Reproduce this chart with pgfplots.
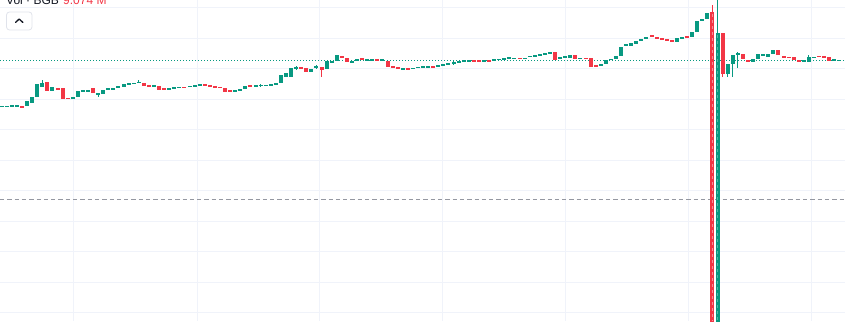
\documentclass[border=0pt]{standalone}
\usepackage{pgfplots}
\pgfplotsset{compat=1.18}
\usepackage{pgfplotstable}
\usepackage{fontspec}
\setmainfont{Liberation Sans}
\definecolor{tvgreen}{RGB}{8,153,129}
\definecolor{tvred}{RGB}{242,54,69}
\definecolor{gridcol}{RGB}{240,243,250}
\definecolor{dashgray}{RGB}{149,152,161}
\definecolor{txt}{RGB}{19,23,34}
\definecolor{btnborder}{RGB}{224,227,235}

% columns: index, body top, body bottom, wick high, wick low (pixel rows, top = 0)
\pgfplotstableread{
i t b h l
0 106 107 106 107
1 106 107 106 107
2 105.5 106.5 105.5 106.5
3 105 106 105 106
5 101 106 101 106
6 97 103 97 103
7 84 97 84 97
8 83 87 80 87
10 87 91 87 91
14 97.5 98.5 97.5 98.5
15 91 97 91 97
16 90.5 91.5 90.5 91.5
17 90 91 90 91
19 93 95 93 97
20 90 94 90 94
21 88.5 89.5 88.5 89.5
22 88 89.5 88 89.5
23 86.5 87.5 86.5 87.5
24 84 87 84 87
25 83.5 84.5 83.5 84.5
26 83 84 83 84
27 82 83 80 83
30 85.5 86.5 85.5 86.5
33 88 89 88 89
34 87.5 88.5 87.5 88.5
35 87 88 87 88
37 86 87 86 87
38 85.5 86.5 85.5 86.5
39 84 86 84 86
46 90.3 91.3 90.3 91.3
47 89 90.7 89 90.7
48 86.3 89 86.3 89
50 85.3 86.3 85.3 86.3
51 85 86 84 87
52 85 86 85 86
53 84 85.7 84 85.7
54 83 84.3 83 84.3
55 75 83 75 83
56 73 77 73 77
57 68 77 68 77
58 67.5 68.5 66 70
61 69 72 69 72
62 66.5 67.5 65 69
64 61 69 61 69
65 61.5 62.5 61.5 62.5
66 55 61 55 61
69 61.5 62.5 61.5 62.5
70 59 61 59 61
72 59.5 60.5 59.5 60.5
73 59.5 60.5 59.5 60.5
75 59.5 60.5 59.5 60.5
79 68.5 69.5 68.5 69.5
81 68 69 68 69
82 67 68 67 68
83 66.5 67.5 66.5 67.5
84 66.5 67.5 66.5 67.5
86 65.5 66.5 65.5 66.5
87 64 66 64 66
88 63.3 64.3 63.3 64.3
89 62.2 63.2 61 65
90 61.2 62.2 61.2 62.2
91 60.5 61.5 60.5 61.5
92 60.2 61.2 60.2 61.2
95 60.2 61.2 60.2 61.2
97 59.5 60.5 59.5 60.5
98 58.8 59.8 58.8 59.8
99 58.5 59.5 58.5 59.5
100 57.3 59 57.3 59
101 57.8 58.8 57.8 58.8
103 57.8 58.8 57.8 58.8
104 55.7 57.3 55.7 57.3
105 55.2 56.2 55.2 56.2
106 54 55.7 54 55.7
107 52.7 55 52.7 55
108 52 53.5 52 53.5
110 57 59.5 57 59.5
111 56.5 58.5 56.5 58.5
112 55 57.7 55 57.7
114 57.8 58.8 57.8 58.8
118 64 66 64 66
119 60 64 60 64
120 59 60 59 60
121 56 59 56 59
122 47 56 47 56
123 44.5 45.5 44.5 45.5
124 43 46 43 46
125 41 44 41 44
126 39 41 39 41
127 37 39 37 39
133 38 42 38 42
134 37.5 38.5 37.5 38.5
136 32 37 32 37
137 21 32 21 32
138 19 21 19 21
139 13 19 13 19
141 33 325 -2 325
143 64 74 64 77
144 55 64 55 77
145 53 55 52 68
148 59 61.7 59 61.7
149 54.3 59 54.3 59
150 54.5 55.5 54.5 55.5
151 54.3 56.7 54.3 56.7
152 50 54.3 50 54.3
158 60.5 61.5 60.5 61.5
159 57.3 61.7 55 61.7
160 56.8 57.8 56.8 57.8
164 59.5 60.5 59.5 60.5
165 59.8 60.8 59.8 60.8
}\greentable

\pgfplotstableread{
i t b h l
4 106 108 106 108
9 82 91 82 91
11 88 89 88 89
12 88 99 88 99
13 98 99 98 99
18 88 93 88 93
28 83 86 83 86
29 85.5 86.5 85.5 86.5
31 86 90 86 90
32 88.5 89.5 88.5 89.5
36 87 88 87 88
40 84.5 85.5 84.5 85.5
41 85 87 85 87
42 86.5 87.5 86.5 87.5
43 87 88 87 88
44 87.7 92.3 87.7 92.3
45 90.5 91.5 90.5 91.5
49 85.3 86.3 85.3 86.3
59 67.5 68.5 67.5 68.5
60 68 72 68 72
63 67 70 67 77
67 56 58 56 58
68 58 62 58 62
71 58.5 59.5 58.5 59.5
74 59.5 60.5 59.5 60.5
76 61 67 61 67
77 66.5 67.5 66.5 67.5
78 67.5 68.5 67.5 68.5
80 68.5 69.5 68.5 69.5
85 66.5 67.5 66.5 67.5
93 60.2 61.2 60.2 61.2
94 60.2 61.2 60.2 61.2
96 60.2 61.2 60.2 61.2
102 57.8 58.8 57.8 58.8
109 51.7 60 51.7 60
113 55 59 55 59
115 57.8 58.8 57.8 58.8
116 58 67 58 67
117 65.5 66.5 65.5 66.5
128 35.5 36.5 35.5 36.5
129 37.5 38.5 37.5 38.5
130 38.5 39.5 38.5 39.5
131 39.5 40.5 39.5 40.5
132 40.5 41.5 40.5 41.5
135 36.5 37.5 36.5 37.5
140 12 325 5 325
142 33 74 33 77
146 54 58.7 54 58.7
147 60 61.7 60 61.7
153 50 55 50 55
154 55.7 57.7 55.7 57.7
155 56.8 57.8 56.8 57.8
156 57.3 60 57.3 60
157 60 61.7 60 61.7
161 55.8 56.8 55.8 56.8
162 56.2 57.2 56.2 57.2
163 57.3 60.7 57.3 60.7
}\redtable

\pgfplotsset{
  candle/.style n args={2}{draw=none, mark=none, forget plot,
    error bars/.cd, y dir=both, y explicit, error mark=none,
    error bar style={draw=#1, line width=#2, line cap=butt}},
}

\begin{document}
\begin{tikzpicture}
\useasboundingbox (0,0) rectangle (845pt,321pt);
\clip (0,0) rectangle (845pt,321pt);
\begin{axis}[
  at={(0,0)}, anchor=south west,
  scale only axis, width=845pt, height=321pt,
  xmin=0, xmax=845, ymin=0, ymax=321, y dir=reverse,
  axis line style={draw=none}, tick style={draw=none},
  major tick length=0pt,
  xtick={73,197,319,442,565,688,811},
  ytick={7,38,68,99,129,160,190,221,251,282,312},
  xticklabels={}, yticklabels={},
  grid=major, grid style={color=gridcol, line width=0.8pt},
]
\draw[tvgreen, line width=0.9pt, dash pattern=on 1pt off 2pt] (axis cs:0,60.7) -- (axis cs:845,60.7);
\draw[dashgray, line width=0.9pt, dash pattern=on 4.3pt off 3pt] (axis cs:0,199) -- (axis cs:845,199);
% wicks
\addplot[candle={tvgreen}{1pt}]
  table[x expr={1.7+5.077*\thisrow{i}}, y expr={(\thisrow{h}+\thisrow{l})/2}, y error expr={(\thisrow{l}-\thisrow{h})/2}] {\greentable};
\addplot[candle={tvred}{1pt}]
  table[x expr={1.7+5.077*\thisrow{i}}, y expr={(\thisrow{h}+\thisrow{l})/2}, y error expr={(\thisrow{l}-\thisrow{h})/2}] {\redtable};
% bodies
\addplot[candle={tvgreen}{4pt}]
  table[x expr={1.7+5.077*\thisrow{i}}, y expr={(\thisrow{t}+\thisrow{b})/2}, y error expr={max((\thisrow{b}-\thisrow{t})/2,0.6)}] {\greentable};
\addplot[candle={tvred}{4pt}]
  table[x expr={1.7+5.077*\thisrow{i}}, y expr={(\thisrow{t}+\thisrow{b})/2}, y error expr={max((\thisrow{b}-\thisrow{t})/2,0.6)}] {\redtable};
\draw[white, opacity=0.45, line width=0.6pt, dash pattern=on 3pt off 3pt] (axis cs:712.5,14) -- (axis cs:712.5,321);
\draw[white, opacity=0.3, line width=0.6pt, dash pattern=on 3pt off 3pt] (axis cs:717.6,35) -- (axis cs:717.6,321);
\end{axis}
% header text (partly cut at top edge, as in the reference)
\node[anchor=base west, inner sep=0pt, font=\fontsize{12}{14}\selectfont, text=txt] at (6pt,316.3pt) {Vol · BGB};
\node[anchor=base west, inner sep=0pt, font=\fontsize{12}{14}\selectfont, text=tvred] at (63pt,316.3pt) {9.074 M};
% collapse button
\draw[btnborder, fill=white, line width=0.8pt, rounded corners=3pt] (6.5pt,309pt) rectangle (32pt,291pt);
\draw[txt, line width=1.3pt, line cap=round, line join=round] (15.5pt,298.5pt) -- (19.2pt,302pt) -- (22.9pt,298.5pt);
\end{tikzpicture}
\end{document}
